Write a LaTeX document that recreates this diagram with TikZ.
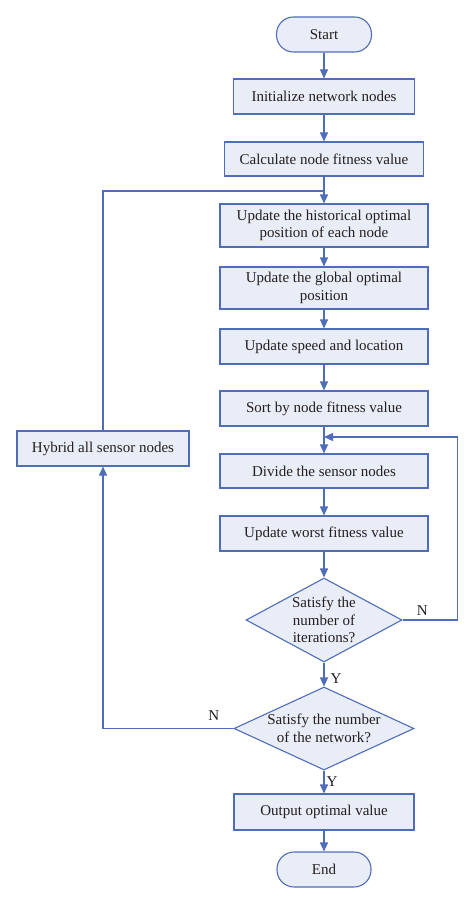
\documentclass[tikz,border=0pt]{standalone}
\usepackage{fontspec}
\setmainfont{Liberation Serif}
\usetikzlibrary{shapes.geometric, arrows.meta}

\definecolor{flowline}{RGB}{79,109,184}
\definecolor{flowfill}{RGB}{233,237,247}
\definecolor{flowtext}{RGB}{35,31,32}

\tikzset{
    box/.style={rectangle, draw=flowline, fill=flowfill, line width=1.1pt, text=flowtext, align=center, inner sep=0pt, font=\fontsize{15}{17.5}\selectfont},
    term/.style={box, rounded corners=17pt},
    decision/.style={box, diamond},
    flow/.style={draw=flowline, line width=1.1pt, -{Triangle[width=8pt, length=9pt]}},
    link/.style={draw=flowline, line width=1.1pt},
    yn/.style={text=flowtext, inner sep=2pt, font=\fontsize{15}{17.5}\selectfont}
}

\begin{document}
\begin{tikzpicture}[x=1pt, y=-1pt]
                    \fill[white] (0, 0) rectangle (474, 904);
                    \useasboundingbox (0, 0) rectangle (474, 904);

                    \node[term, minimum width=95pt, minimum height=35pt] (start) at (324, 34.5) {Start};
                    \node[box, minimum width=181pt, minimum height=35pt] (init) at (324, 96.5) {Initialize network nodes};
                    \node[box, minimum width=199pt, minimum height=34pt] (calc) at (324, 159) {Calculate node fitness value};
                    \node[box, minimum width=208pt, minimum height=43pt] (hist) at (324, 225.5) {Update the historical optimal\\position of each node};
                    \node[box, minimum width=208pt, minimum height=42pt] (glob) at (324, 288) {Update the global optimal\\position};
                    \node[box, minimum width=208pt, minimum height=35pt] (speed) at (324, 346.5) {Update speed and location};
                    \node[box, minimum width=208pt, minimum height=35pt] (sort) at (324, 408.5) {Sort by node fitness value};
                    \node[box, minimum width=172pt, minimum height=35pt] (hybrid) at (103, 448.5) {Hybrid all sensor nodes};
                    \node[box, minimum width=208pt, minimum height=34pt] (divide) at (324, 471) {Divide the sensor nodes};
                    \node[box, minimum width=208pt, minimum height=35pt] (worst) at (324, 533.5) {Update worst fitness value};
                    \node[decision, aspect=1.86, minimum width=156pt, minimum height=84pt] (iter) at (324, 620) {Satisfy the\\number of\\iterations?};
                    \node[decision, aspect=2.17, minimum width=180pt, minimum height=83pt] (net) at (324, 728.5) {Satisfy the number\\of the network?};
                    \node[box, minimum width=180pt, minimum height=36pt] (output) at (324, 812) {Output optimal value};
                    \node[term, minimum width=94pt, minimum height=35pt] (end) at (324, 869.5) {End};

                    \coordinate (merge) at (324, 191);
                    \coordinate (rejoin) at (324, 437);

                    \draw[flow] (start) -- (init);
                    \draw[flow] (init) -- (calc);
                    \draw[flow] (calc) -- (hist);
                    \draw[flow] (hist) -- (glob);
                    \draw[flow] (glob) -- (speed);
                    \draw[flow] (speed) -- (sort);
                    \draw[flow] (sort) -- (divide);
                    \draw[flow] (divide) -- (worst);
                    \draw[flow] (worst) -- (iter);
                    \draw[flow] (iter) -- node[yn, right, pos=0.65, xshift=4pt] {Y} (net);
                    \draw[flow] (net) -- node[yn, right, pos=0.5] {Y} (output);
                    \draw[flow] (output) -- (end);
                    \draw[flow] (iter.east) -- node[yn, above, pos=0.36, yshift=2pt] {N} ++(55, 0) |- (rejoin);
                    \draw[flow] (net.west) -| node[yn, above, pos=0.075, yshift=5pt] {N} (hybrid.south);
                    \draw[link] (hybrid.north) |- (merge);
                \end{tikzpicture}
\end{document}
